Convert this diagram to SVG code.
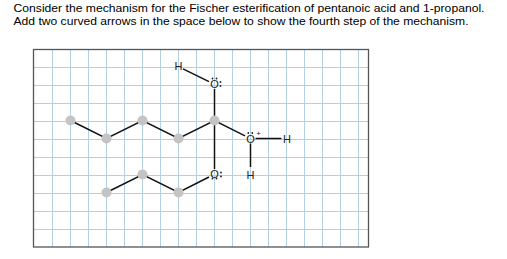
<svg xmlns="http://www.w3.org/2000/svg" width="507" height="259" viewBox="0 0 507 259">
<style>
.q{font-family:"Liberation Sans",Arial,sans-serif;font-size:11.5px;fill:#000}
.lbl{font-family:"Liberation Sans",Arial,sans-serif;font-size:11px;fill:#222;text-anchor:middle}
.plus{font-family:"Liberation Sans",Arial,sans-serif;font-size:8px;fill:#222;text-anchor:middle}
.grid line{stroke:#b3cfe3;stroke-width:1}
.bond{stroke:#111;stroke-width:1.5;fill:none}
.atom{fill:#c4c4c4}
.lp{fill:#222}
</style>
<rect width="507" height="259" fill="#fff"/>
<text class="q" x="13.5" y="12" textLength="471" lengthAdjust="spacingAndGlyphs">Consider the mechanism for the Fischer esterification of pentanoic acid and 1-propanol.</text>
<text class="q" x="13.5" y="24.5" textLength="455" lengthAdjust="spacingAndGlyphs">Add two curved arrows in the space below to show the fourth step of the mechanism.</text>
<g id="grid" class="grid">
<line x1="52.5" y1="49.5" x2="52.5" y2="247"/><line x1="70.5" y1="49.5" x2="70.5" y2="247"/><line x1="88.5" y1="49.5" x2="88.5" y2="247"/><line x1="106.5" y1="49.5" x2="106.5" y2="247"/><line x1="124.5" y1="49.5" x2="124.5" y2="247"/><line x1="142.5" y1="49.5" x2="142.5" y2="247"/><line x1="160.5" y1="49.5" x2="160.5" y2="247"/><line x1="178.5" y1="49.5" x2="178.5" y2="247"/><line x1="196.5" y1="49.5" x2="196.5" y2="247"/><line x1="214.5" y1="49.5" x2="214.5" y2="247"/><line x1="232.5" y1="49.5" x2="232.5" y2="247"/><line x1="250.5" y1="49.5" x2="250.5" y2="247"/><line x1="268.5" y1="49.5" x2="268.5" y2="247"/><line x1="286.5" y1="49.5" x2="286.5" y2="247"/><line x1="304.5" y1="49.5" x2="304.5" y2="247"/><line x1="322.5" y1="49.5" x2="322.5" y2="247"/><line x1="340.5" y1="49.5" x2="340.5" y2="247"/><line x1="358.5" y1="49.5" x2="358.5" y2="247"/>
<line x1="34" y1="67.5" x2="368" y2="67.5"/><line x1="34" y1="85.5" x2="368" y2="85.5"/><line x1="34" y1="103.5" x2="368" y2="103.5"/><line x1="34" y1="121.5" x2="368" y2="121.5"/><line x1="34" y1="139.5" x2="368" y2="139.5"/><line x1="34" y1="157.5" x2="368" y2="157.5"/><line x1="34" y1="175.5" x2="368" y2="175.5"/><line x1="34" y1="193.5" x2="368" y2="193.5"/><line x1="34" y1="211.5" x2="368" y2="211.5"/><line x1="34" y1="229.5" x2="368" y2="229.5"/>
</g>
<rect id="frame" x="33.5" y="49.5" width="335" height="197.5" fill="none" stroke="#555" stroke-width="1.3"/>
<g id="connectors">
<path class="bond" d="M70.5 120.5 L106.5 138.5 L142.5 120.5 L178.5 138.5 L214.5 120.5 L245 135.8"/>
<line class="bond" x1="214.5" y1="120.5" x2="214.5" y2="89"/>
<line class="bond" x1="183" y1="68.8" x2="209" y2="81.6"/>
<line class="bond" x1="214.5" y1="120.5" x2="214.5" y2="169"/>
<path class="bond" d="M106.5 192.5 L142.5 174.5 L178.5 192.5 L209 177"/>
<line class="bond" x1="255.5" y1="138.5" x2="281.5" y2="138.5"/>
<line class="bond" x1="250.5" y1="143.5" x2="250.5" y2="167"/>
</g>
<g id="c1"><circle class="atom" cx="70.5" cy="120.5" r="5"/></g>
<g id="c2"><circle class="atom" cx="106.5" cy="138.5" r="5"/></g>
<g id="c3"><circle class="atom" cx="142.5" cy="120.5" r="5"/></g>
<g id="c4"><circle class="atom" cx="178.5" cy="138.5" r="5"/></g>
<g id="c5"><circle class="atom" cx="214.5" cy="120.5" r="5"/></g>
<g id="c6"><circle class="atom" cx="106.5" cy="192.5" r="5"/></g>
<g id="c7"><circle class="atom" cx="142.5" cy="174.5" r="5"/></g>
<g id="c8"><circle class="atom" cx="178.5" cy="192.5" r="5"/></g>
<g id="h1"><text class="lbl" x="178.5" y="70">H</text></g>
<g id="o1"><text class="lbl" x="214.5" y="88">O</text>
<circle class="lp" cx="212.5" cy="78.5" r="0.9"/><circle class="lp" cx="216.5" cy="78.5" r="0.9"/>
<circle class="lp" cx="220.5" cy="82" r="0.9"/><circle class="lp" cx="220.5" cy="86" r="0.9"/></g>
<g id="o2"><text class="lbl" x="250.5" y="142.5">O</text>
<circle class="lp" cx="248.3" cy="133" r="0.9"/><circle class="lp" cx="252.3" cy="133" r="0.9"/>
<text class="plus" x="258.5" y="135.5">+</text></g>
<g id="h2"><text class="lbl" x="287" y="142.5">H</text></g>
<g id="h3"><text class="lbl" x="250.5" y="178.5">H</text></g>
<g id="o3"><text class="lbl" x="214.5" y="178">O</text>
<circle class="lp" cx="221" cy="172.5" r="0.9"/><circle class="lp" cx="221" cy="176.5" r="0.9"/>
<circle class="lp" cx="212.5" cy="178.5" r="0.9"/><circle class="lp" cx="216.5" cy="178.5" r="0.9"/></g>
</svg>
